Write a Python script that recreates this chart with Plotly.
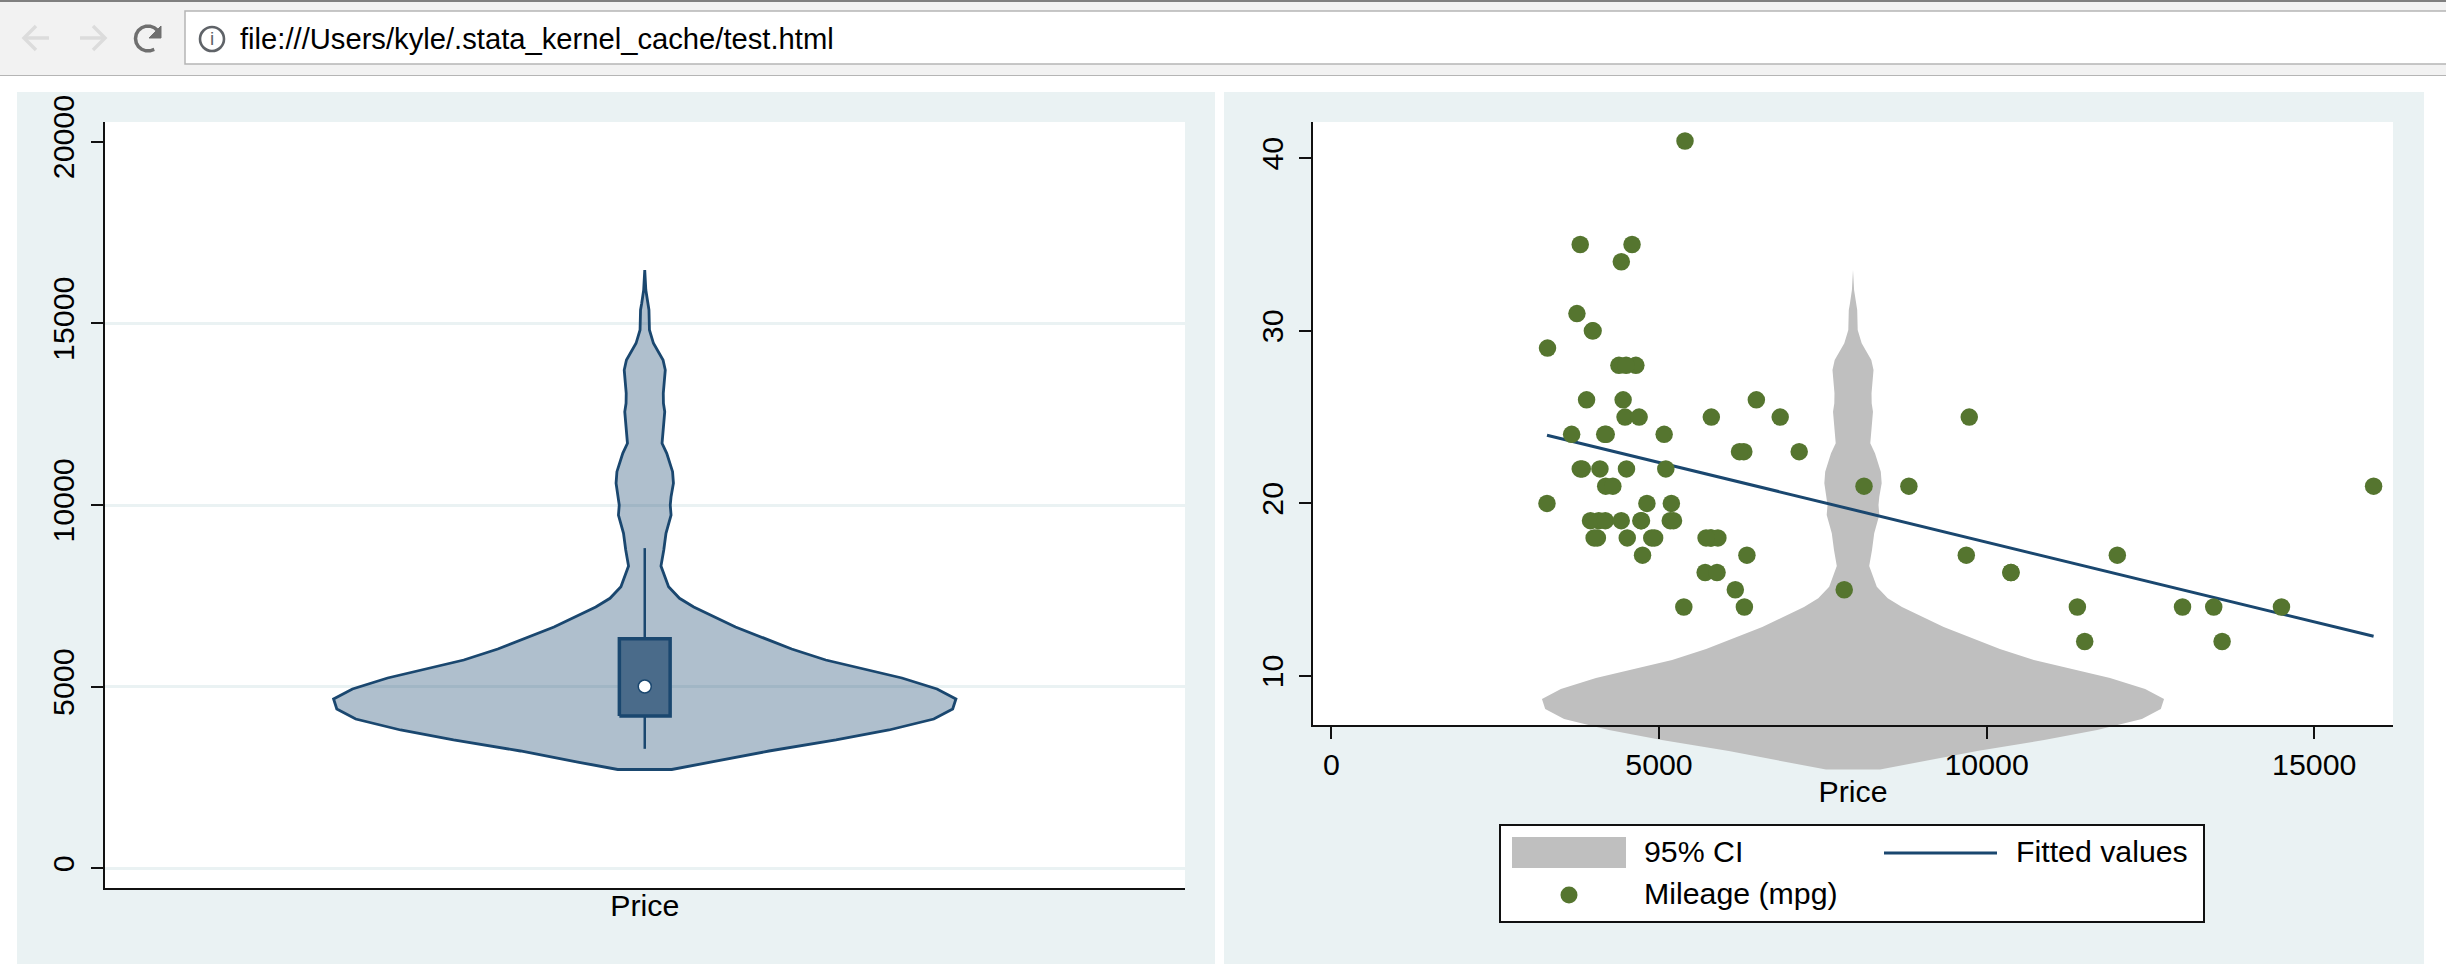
import math
import plotly.graph_objects as go

# ---------- data ----------
violin_price = [16468, 15917, 15551, 15367, 14816, 14450, 13991, 13716, 13074, 12799, 12568,
                11698, 11423, 10917, 10598, 10229, 10000, 9725, 9222, 8762, 8322, 7752, 7433,
                7194, 6643, 6038, 5735, 5240, 4937, 4662, 4387, 4111, 3809, 3534, 3231, 2928, 2722]
violin_density = [0, .002, .0056, .0078, .0087, .0161, .0339, .038, .0343, .0346, .037,
                  .032, .0407, .0515, .0531, .0487, .0472, .0487, .0393, .0352, .03, .0441, .0643,
                  .0907, .168, .272, .335, .476, .541, .576, .570, .535, .452, .354, .23, .124, .05]
box_half = 0.047
box_q1, box_median, box_q3 = 4195, 5006, 6321
whisker_low, whisker_high = 3291, 8814

price = [4099, 4749, 3799, 4816, 7827, 5788, 4453, 5189, 10372, 4082, 11385, 14500, 15906, 3299, 5705,
         4504, 5104, 3667, 3955, 3984, 4010, 5886, 6342, 4389, 4187, 11497, 13594, 13466, 3829, 5379,
         6165, 4516, 6303, 3291, 8814, 5172, 4733, 4890, 4181, 4195, 10371, 4647, 4425, 4482, 6486,
         4060, 5798, 4934, 5222, 4723, 4424, 4172, 9690, 6295, 9735, 6229, 4589, 5079, 8129, 4296,
         5799, 4499, 3995, 12990, 3895, 3798, 5899, 3748, 5719, 7140, 5397, 4697, 6850, 11995]
mileage = [22, 17, 22, 20, 15, 18, 26, 20, 16, 19, 14, 14, 21, 29, 16,
           22, 22, 24, 19, 30, 18, 16, 17, 28, 21, 12, 12, 14, 22, 14,
           15, 18, 14, 20, 21, 19, 19, 18, 19, 24, 16, 28, 34, 25, 26,
           18, 18, 18, 19, 19, 19, 24, 17, 23, 25, 23, 35, 24, 21, 21,
           25, 28, 30, 14, 26, 35, 18, 31, 18, 23, 41, 25, 25, 17]
fit_price = [3291, 15906]
fit_mileage = [23.95, 12.3]

left_ticks = [0, 5000, 10000, 15000, 20000]
left_grid = [0, 5000, 10000, 15000]
right_x_ticks = [0, 5000, 10000, 15000]
right_y_ticks = [10, 20, 30, 40]

# ---------- styling ----------
W, H = 2446, 978
NAVY, GREEN, GREY = "#1a476f", "#55752f", "#bfbfbf"
PANEL = "#eaf2f3"
FONT = "Liberation Sans"
FS = 30.3


def px(v):
    return v / W


def py(v):
    return 1 - v / H


def rect(x0, y0, x1, y1, fill, line=None, lw=0):
    return dict(type="rect", xref="paper", yref="paper", layer="below",
                x0=px(x0), x1=px(x1), y0=py(y0), y1=py(y1), fillcolor=fill,
                line=dict(color=line or fill, width=lw))


def path(points, color, width=3, fill=None, close=False):
    d = "M" + " L".join(f"{px(x):.5f},{py(y):.5f}" for x, y in points) + (" Z" if close else "")
    return dict(type="path", path=d, xref="paper", yref="paper", layer="below",
                line=dict(color=color, width=width), fillcolor=fill or "rgba(0,0,0,0)")


def text(x, y, s, size=FS, color="#000", anchor="left", font=FONT):
    return dict(text=s, x=px(x), y=py(y), xref="paper", yref="paper", showarrow=False,
                xanchor=anchor, yanchor="middle", font=dict(size=size, color=color, family=font))


left_dom = [px(104.5), px(1185)]
right_dom = [px(1313), px(2393)]
left_ydom = [py(888), py(122)]
right_ydom = [py(725), py(122)]
left_yrange = [-539, 20540]
right_xrange = [-280, 16202]
right_yrange = [7.16, 42.1]

vx = [-d for d in violin_density] + violin_density[::-1]
vy = violin_price + violin_price[::-1]

fig = go.Figure()
# left violin
fig.add_trace(go.Scatter(x=vx, y=vy, mode="lines", fill="toself", fillcolor="rgba(26,71,111,0.35)",
                         line=dict(color=NAVY, width=2.8), xaxis="x", yaxis="y", showlegend=False))
fig.add_trace(go.Scatter(x=[0, 0, None, 0, 0], y=[whisker_low, box_q1, None, box_q3, whisker_high], mode="lines",
                         line=dict(color=NAVY, width=2.5), xaxis="x", yaxis="y", showlegend=False))
fig.add_trace(go.Scatter(x=[-box_half, box_half, box_half, -box_half, -box_half],
                         y=[box_q1, box_q1, box_q3, box_q3, box_q1], mode="lines", fill="toself",
                         fillcolor="#4a6b8a", line=dict(color=NAVY, width=3.5),
                         xaxis="x", yaxis="y", showlegend=False))
fig.add_trace(go.Scatter(x=[0], y=[box_median], mode="markers",
                         marker=dict(color="white", size=13, line=dict(color=NAVY, width=1.5)),
                         xaxis="x", yaxis="y", showlegend=False))
# grey violin, same scale as the left one, running past the lower axis
fig.add_trace(go.Scatter(x=vx, y=vy, mode="lines", fill="toself", fillcolor=GREY, line=dict(width=0),
                         xaxis="x3", yaxis="y3", name="95% CI", showlegend=False))
# fit and points
fig.add_trace(go.Scatter(x=fit_price, y=fit_mileage, mode="lines", line=dict(color=NAVY, width=3),
                         xaxis="x4", yaxis="y4", name="Fitted values", showlegend=False))
fig.add_trace(go.Scatter(x=price, y=mileage, mode="markers", marker=dict(color=GREEN, size=17.5),
                         xaxis="x4", yaxis="y4", name="Mileage (mpg)", showlegend=False))

axis_font = dict(family=FONT, size=FS, color="#000")
axis_line = dict(showline=True, linecolor="#111", linewidth=2, zeroline=False, showgrid=False, automargin=False)
hidden = dict(showticklabels=False, ticks="", showline=False, zeroline=False, showgrid=False, automargin=False)

shapes = [
    # browser chrome
    rect(0, 0, W, 75, "#f2f2f2"),
    rect(0, 0, W, 2, "#808080"),
    rect(0, 75, W, 76, "#b5b5b5"),
    rect(185, 11, W + 5, 64, "#ffffff", "#b5b5b5", 1.5),
    path([(49, 38), (24, 38)], "#dcdcdc", 3.5),
    path([(36, 26), (24, 38), (36, 50)], "#dcdcdc", 3.5),
    path([(80, 38), (105, 38)], "#dcdcdc", 3.5),
    path([(93, 26), (105, 38), (93, 50)], "#dcdcdc", 3.5),
    path([(148 + 12.5 * math.cos(math.radians(a)), 38.5 + 12.5 * math.sin(math.radians(a)))
          for a in range(-40, -320, -20)], "#6f6f6f", 3.5),
    path([(161, 26), (161, 38), (149, 38)], "#6f6f6f", 1, fill="#6f6f6f", close=True),
    dict(type="circle", xref="paper", yref="paper", layer="below", x0=px(200), x1=px(224),
         y0=py(51), y1=py(27), line=dict(color="#5f6368", width=2.6), fillcolor="rgba(0,0,0,0)"),
    # panels
    rect(17, 92, 1215, 964, PANEL),
    rect(1224, 92, 2424, 964, PANEL),
    rect(104.5, 122, 1185, 888, "#ffffff"),
    rect(1313, 122, 2393, 725, "#ffffff"),
    # legend box
    dict(type="rect", xref="paper", yref="paper", layer="above", x0=px(1500), x1=px(2204), y0=py(922),
         y1=py(825), fillcolor="white", line=dict(color="#111", width=2)),
    dict(type="rect", xref="paper", yref="paper", layer="above", x0=px(1512), x1=px(1626), y0=py(868),
         y1=py(837), fillcolor=GREY, line=dict(width=0)),
    dict(type="line", xref="paper", yref="paper", layer="above", x0=px(1884), x1=px(1997), y0=py(853),
         y1=py(853), line=dict(color=NAVY, width=3)),
    dict(type="circle", xref="paper", yref="paper", layer="above", x0=px(1560.5), x1=px(1577.5), y0=py(903.5),
         y1=py(886.5), fillcolor=GREEN, line=dict(width=0)),
]

annotations = [
    text(238, 39, "file:///Users/kyle/.stata_kernel_cache/test.html", size=29.2),
    text(212, 39, "i", size=19, color="#5f6368", anchor="center"),
    text(1642, 851.5, "95% CI"),
    text(2014, 851.5, "Fitted values"),
    text(1642, 893.5, "Mileage (mpg)"),
]

fig.update_layout(
    template="none",
    width=W, height=H, margin=dict(l=0, r=0, t=0, b=0, pad=0), autosize=False,
    paper_bgcolor="white", plot_bgcolor="rgba(0,0,0,0)", showlegend=False,
    font=dict(family=FONT), shapes=shapes, annotations=annotations,
    xaxis=dict(domain=left_dom, range=[-1, 1], anchor="y", tickmode="array", tickvals=[0], ticktext=["Price"],
               ticks="", tickfont=axis_font, ticklabelstandoff=-10, **axis_line),
    yaxis=dict(domain=left_ydom, range=left_yrange, anchor="x", tickmode="array", tickvals=left_ticks,
               tickformat="d", ticks="outside", ticklen=12, tickwidth=2, tickcolor="#111", tickangle=-90,
               tickfont=axis_font, ticklabelstandoff=4,
               minor=dict(tickmode="array", tickvals=left_grid, showgrid=True, gridcolor=PANEL, gridwidth=2.5, ticks=""),
               **axis_line),
    xaxis2=dict(domain=right_dom, range=right_xrange, anchor="y2", **hidden),
    yaxis2=dict(domain=right_ydom, range=right_yrange, anchor="x2", tickmode="array", tickvals=right_y_ticks,
                showticklabels=False, ticks="", showline=False, zeroline=False, automargin=False,
                showgrid=True, gridcolor=PANEL, gridwidth=2.5),
    xaxis3=dict(domain=right_dom, range=[-1, 1], anchor="y3", **hidden),
    yaxis3=dict(domain=left_ydom, range=left_yrange, anchor="x3", **hidden),
    xaxis4=dict(domain=right_dom, range=right_xrange, anchor="y4", tickmode="array", tickvals=right_x_ticks,
                tickformat="d", ticks="outside", ticklen=12, tickwidth=2, tickcolor="#111", tickfont=axis_font,
                title=dict(text="Price", font=axis_font, standoff=0), **axis_line),
    yaxis4=dict(domain=right_ydom, range=right_yrange, anchor="x4", tickmode="array", tickvals=right_y_ticks,
                ticks="outside", ticklen=12, tickwidth=2, tickcolor="#111", tickangle=-90, tickfont=axis_font,
                ticklabelstandoff=4, **axis_line),
)

fig.write_html("out.html", config={"displayModeBar": False},
               post_script="document.body.style.margin='0';document.body.style.overflow='hidden';")
